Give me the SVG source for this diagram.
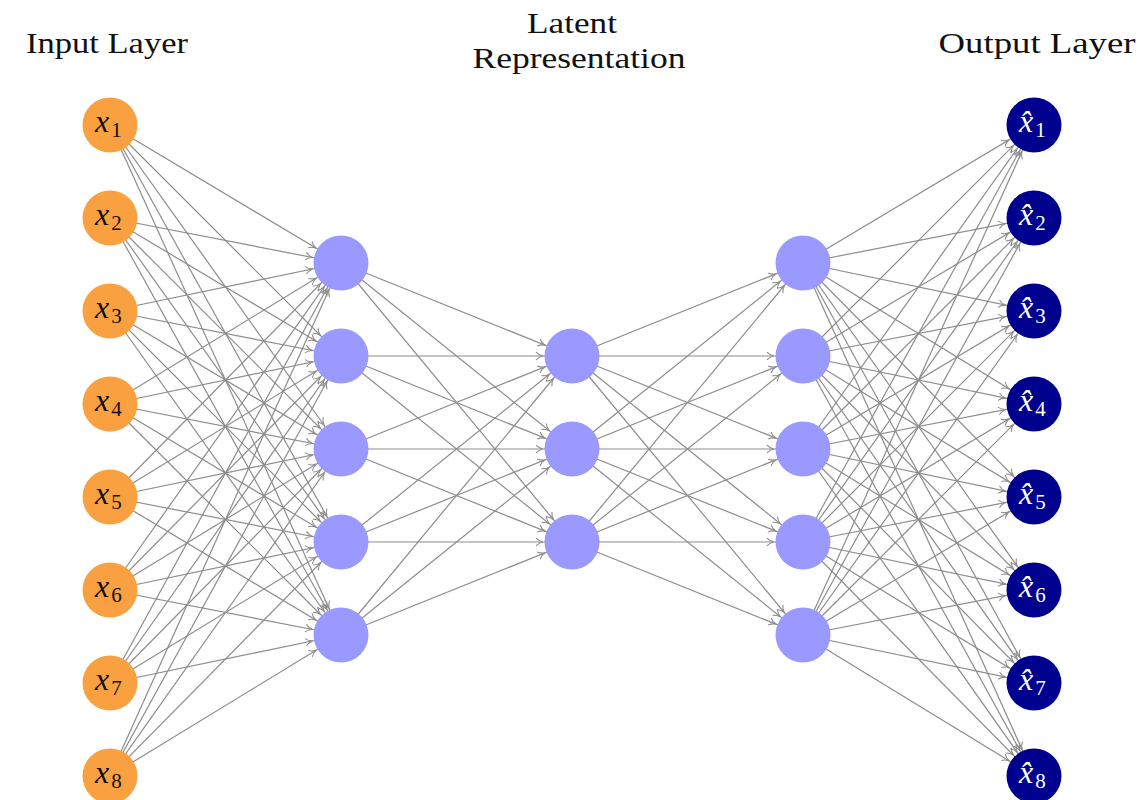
<svg xmlns="http://www.w3.org/2000/svg" width="1144" height="800" viewBox="0 0 1144 800">
<style>
.t{font-family:"Liberation Serif","DejaVu Serif",serif;font-size:29px;fill:#111}
.c line{stroke:#8c8c8c;stroke-width:1.2;marker-end:url(#ah)}
.in{fill:#F9A040}
.hid{fill:#9999FF}
.out{fill:#00008F}
.lb{font-family:"Liberation Serif","DejaVu Serif",serif;font-style:italic;font-size:32px}
.lb tspan.s{font-style:normal;font-size:21px}
.w{fill:#fff}
.k{fill:#111}
</style>
<defs>
<marker id="ah" markerUnits="userSpaceOnUse" refX="29" refY="0" markerWidth="10" markerHeight="10" orient="auto" overflow="visible">
<path d="M-7,-3.8 C-5,-1.6 -2,-0.4 0,0 C-2,0.4 -5,1.6 -7,3.8" fill="none" stroke="#8c8c8c" stroke-width="1.1"/>
</marker>
</defs>
<rect width="1144" height="800" fill="#fff"/>
<text class="t" x="107" y="53" text-anchor="middle" textLength="162" lengthAdjust="spacingAndGlyphs">Input Layer</text>
<text class="t" x="572" y="33" text-anchor="middle" textLength="90" lengthAdjust="spacingAndGlyphs">Latent</text>
<text class="t" x="579" y="68" text-anchor="middle" textLength="213" lengthAdjust="spacingAndGlyphs">Representation</text>
<text class="t" x="1037" y="53" text-anchor="middle" textLength="197" lengthAdjust="spacingAndGlyphs">Output Layer</text>
<g class="c" id="connectors">
<line x1="110" y1="125" x2="341" y2="263"/><line x1="110" y1="125" x2="341" y2="356"/><line x1="110" y1="125" x2="341" y2="449"/><line x1="110" y1="125" x2="341" y2="542"/><line x1="110" y1="125" x2="341" y2="635"/>
<line x1="110" y1="218" x2="341" y2="263"/><line x1="110" y1="218" x2="341" y2="356"/><line x1="110" y1="218" x2="341" y2="449"/><line x1="110" y1="218" x2="341" y2="542"/><line x1="110" y1="218" x2="341" y2="635"/>
<line x1="110" y1="311" x2="341" y2="263"/><line x1="110" y1="311" x2="341" y2="356"/><line x1="110" y1="311" x2="341" y2="449"/><line x1="110" y1="311" x2="341" y2="542"/><line x1="110" y1="311" x2="341" y2="635"/>
<line x1="110" y1="404" x2="341" y2="263"/><line x1="110" y1="404" x2="341" y2="356"/><line x1="110" y1="404" x2="341" y2="449"/><line x1="110" y1="404" x2="341" y2="542"/><line x1="110" y1="404" x2="341" y2="635"/>
<line x1="110" y1="497" x2="341" y2="263"/><line x1="110" y1="497" x2="341" y2="356"/><line x1="110" y1="497" x2="341" y2="449"/><line x1="110" y1="497" x2="341" y2="542"/><line x1="110" y1="497" x2="341" y2="635"/>
<line x1="110" y1="590" x2="341" y2="263"/><line x1="110" y1="590" x2="341" y2="356"/><line x1="110" y1="590" x2="341" y2="449"/><line x1="110" y1="590" x2="341" y2="542"/><line x1="110" y1="590" x2="341" y2="635"/>
<line x1="110" y1="683" x2="341" y2="263"/><line x1="110" y1="683" x2="341" y2="356"/><line x1="110" y1="683" x2="341" y2="449"/><line x1="110" y1="683" x2="341" y2="542"/><line x1="110" y1="683" x2="341" y2="635"/>
<line x1="110" y1="776" x2="341" y2="263"/><line x1="110" y1="776" x2="341" y2="356"/><line x1="110" y1="776" x2="341" y2="449"/><line x1="110" y1="776" x2="341" y2="542"/><line x1="110" y1="776" x2="341" y2="635"/>
<line x1="341" y1="263" x2="572" y2="356"/><line x1="341" y1="263" x2="572" y2="449"/><line x1="341" y1="263" x2="572" y2="542"/>
<line x1="341" y1="356" x2="572" y2="356"/><line x1="341" y1="356" x2="572" y2="449"/><line x1="341" y1="356" x2="572" y2="542"/>
<line x1="341" y1="449" x2="572" y2="356"/><line x1="341" y1="449" x2="572" y2="449"/><line x1="341" y1="449" x2="572" y2="542"/>
<line x1="341" y1="542" x2="572" y2="356"/><line x1="341" y1="542" x2="572" y2="449"/><line x1="341" y1="542" x2="572" y2="542"/>
<line x1="341" y1="635" x2="572" y2="356"/><line x1="341" y1="635" x2="572" y2="449"/><line x1="341" y1="635" x2="572" y2="542"/>
<line x1="572" y1="356" x2="803" y2="263"/><line x1="572" y1="356" x2="803" y2="356"/><line x1="572" y1="356" x2="803" y2="449"/><line x1="572" y1="356" x2="803" y2="542"/><line x1="572" y1="356" x2="803" y2="635"/>
<line x1="572" y1="449" x2="803" y2="263"/><line x1="572" y1="449" x2="803" y2="356"/><line x1="572" y1="449" x2="803" y2="449"/><line x1="572" y1="449" x2="803" y2="542"/><line x1="572" y1="449" x2="803" y2="635"/>
<line x1="572" y1="542" x2="803" y2="263"/><line x1="572" y1="542" x2="803" y2="356"/><line x1="572" y1="542" x2="803" y2="449"/><line x1="572" y1="542" x2="803" y2="542"/><line x1="572" y1="542" x2="803" y2="635"/>
<line x1="803" y1="263" x2="1034" y2="125"/><line x1="803" y1="263" x2="1034" y2="218"/><line x1="803" y1="263" x2="1034" y2="311"/><line x1="803" y1="263" x2="1034" y2="404"/><line x1="803" y1="263" x2="1034" y2="497"/><line x1="803" y1="263" x2="1034" y2="590"/><line x1="803" y1="263" x2="1034" y2="683"/><line x1="803" y1="263" x2="1034" y2="776"/>
<line x1="803" y1="356" x2="1034" y2="125"/><line x1="803" y1="356" x2="1034" y2="218"/><line x1="803" y1="356" x2="1034" y2="311"/><line x1="803" y1="356" x2="1034" y2="404"/><line x1="803" y1="356" x2="1034" y2="497"/><line x1="803" y1="356" x2="1034" y2="590"/><line x1="803" y1="356" x2="1034" y2="683"/><line x1="803" y1="356" x2="1034" y2="776"/>
<line x1="803" y1="449" x2="1034" y2="125"/><line x1="803" y1="449" x2="1034" y2="218"/><line x1="803" y1="449" x2="1034" y2="311"/><line x1="803" y1="449" x2="1034" y2="404"/><line x1="803" y1="449" x2="1034" y2="497"/><line x1="803" y1="449" x2="1034" y2="590"/><line x1="803" y1="449" x2="1034" y2="683"/><line x1="803" y1="449" x2="1034" y2="776"/>
<line x1="803" y1="542" x2="1034" y2="125"/><line x1="803" y1="542" x2="1034" y2="218"/><line x1="803" y1="542" x2="1034" y2="311"/><line x1="803" y1="542" x2="1034" y2="404"/><line x1="803" y1="542" x2="1034" y2="497"/><line x1="803" y1="542" x2="1034" y2="590"/><line x1="803" y1="542" x2="1034" y2="683"/><line x1="803" y1="542" x2="1034" y2="776"/>
<line x1="803" y1="635" x2="1034" y2="125"/><line x1="803" y1="635" x2="1034" y2="218"/><line x1="803" y1="635" x2="1034" y2="311"/><line x1="803" y1="635" x2="1034" y2="404"/><line x1="803" y1="635" x2="1034" y2="497"/><line x1="803" y1="635" x2="1034" y2="590"/><line x1="803" y1="635" x2="1034" y2="683"/><line x1="803" y1="635" x2="1034" y2="776"/>
</g>
<g id="in1"><circle class="in" cx="110" cy="125" r="27.5"/><text class="lb k" x="95" y="132">x<tspan class="s" dx="2" dy="5">1</tspan></text></g>
<g id="in2"><circle class="in" cx="110" cy="218" r="27.5"/><text class="lb k" x="95" y="225">x<tspan class="s" dx="2" dy="5">2</tspan></text></g>
<g id="in3"><circle class="in" cx="110" cy="311" r="27.5"/><text class="lb k" x="95" y="318">x<tspan class="s" dx="2" dy="5">3</tspan></text></g>
<g id="in4"><circle class="in" cx="110" cy="404" r="27.5"/><text class="lb k" x="95" y="411">x<tspan class="s" dx="2" dy="5">4</tspan></text></g>
<g id="in5"><circle class="in" cx="110" cy="497" r="27.5"/><text class="lb k" x="95" y="504">x<tspan class="s" dx="2" dy="5">5</tspan></text></g>
<g id="in6"><circle class="in" cx="110" cy="590" r="27.5"/><text class="lb k" x="95" y="597">x<tspan class="s" dx="2" dy="5">6</tspan></text></g>
<g id="in7"><circle class="in" cx="110" cy="683" r="27.5"/><text class="lb k" x="95" y="690">x<tspan class="s" dx="2" dy="5">7</tspan></text></g>
<g id="in8"><circle class="in" cx="110" cy="776" r="27.5"/><text class="lb k" x="95" y="783">x<tspan class="s" dx="2" dy="5">8</tspan></text></g>
<g id="h1a"><circle class="hid" cx="341" cy="263" r="27.5"/></g>
<g id="h1b"><circle class="hid" cx="341" cy="356" r="27.5"/></g>
<g id="h1c"><circle class="hid" cx="341" cy="449" r="27.5"/></g>
<g id="h1d"><circle class="hid" cx="341" cy="542" r="27.5"/></g>
<g id="h1e"><circle class="hid" cx="341" cy="635" r="27.5"/></g>
<g id="z1"><circle class="hid" cx="572" cy="356" r="27.5"/></g>
<g id="z2"><circle class="hid" cx="572" cy="449" r="27.5"/></g>
<g id="z3"><circle class="hid" cx="572" cy="542" r="27.5"/></g>
<g id="h2a"><circle class="hid" cx="803" cy="263" r="27.5"/></g>
<g id="h2b"><circle class="hid" cx="803" cy="356" r="27.5"/></g>
<g id="h2c"><circle class="hid" cx="803" cy="449" r="27.5"/></g>
<g id="h2d"><circle class="hid" cx="803" cy="542" r="27.5"/></g>
<g id="h2e"><circle class="hid" cx="803" cy="635" r="27.5"/></g>
<g id="out1"><circle class="out" cx="1034" cy="125" r="27.5"/><text class="lb w" x="1019" y="132">x̂<tspan class="s" dx="2" dy="5">1</tspan></text></g>
<g id="out2"><circle class="out" cx="1034" cy="218" r="27.5"/><text class="lb w" x="1019" y="225">x̂<tspan class="s" dx="2" dy="5">2</tspan></text></g>
<g id="out3"><circle class="out" cx="1034" cy="311" r="27.5"/><text class="lb w" x="1019" y="318">x̂<tspan class="s" dx="2" dy="5">3</tspan></text></g>
<g id="out4"><circle class="out" cx="1034" cy="404" r="27.5"/><text class="lb w" x="1019" y="411">x̂<tspan class="s" dx="2" dy="5">4</tspan></text></g>
<g id="out5"><circle class="out" cx="1034" cy="497" r="27.5"/><text class="lb w" x="1019" y="504">x̂<tspan class="s" dx="2" dy="5">5</tspan></text></g>
<g id="out6"><circle class="out" cx="1034" cy="590" r="27.5"/><text class="lb w" x="1019" y="597">x̂<tspan class="s" dx="2" dy="5">6</tspan></text></g>
<g id="out7"><circle class="out" cx="1034" cy="683" r="27.5"/><text class="lb w" x="1019" y="690">x̂<tspan class="s" dx="2" dy="5">7</tspan></text></g>
<g id="out8"><circle class="out" cx="1034" cy="776" r="27.5"/><text class="lb w" x="1019" y="783">x̂<tspan class="s" dx="2" dy="5">8</tspan></text></g>
</svg>
